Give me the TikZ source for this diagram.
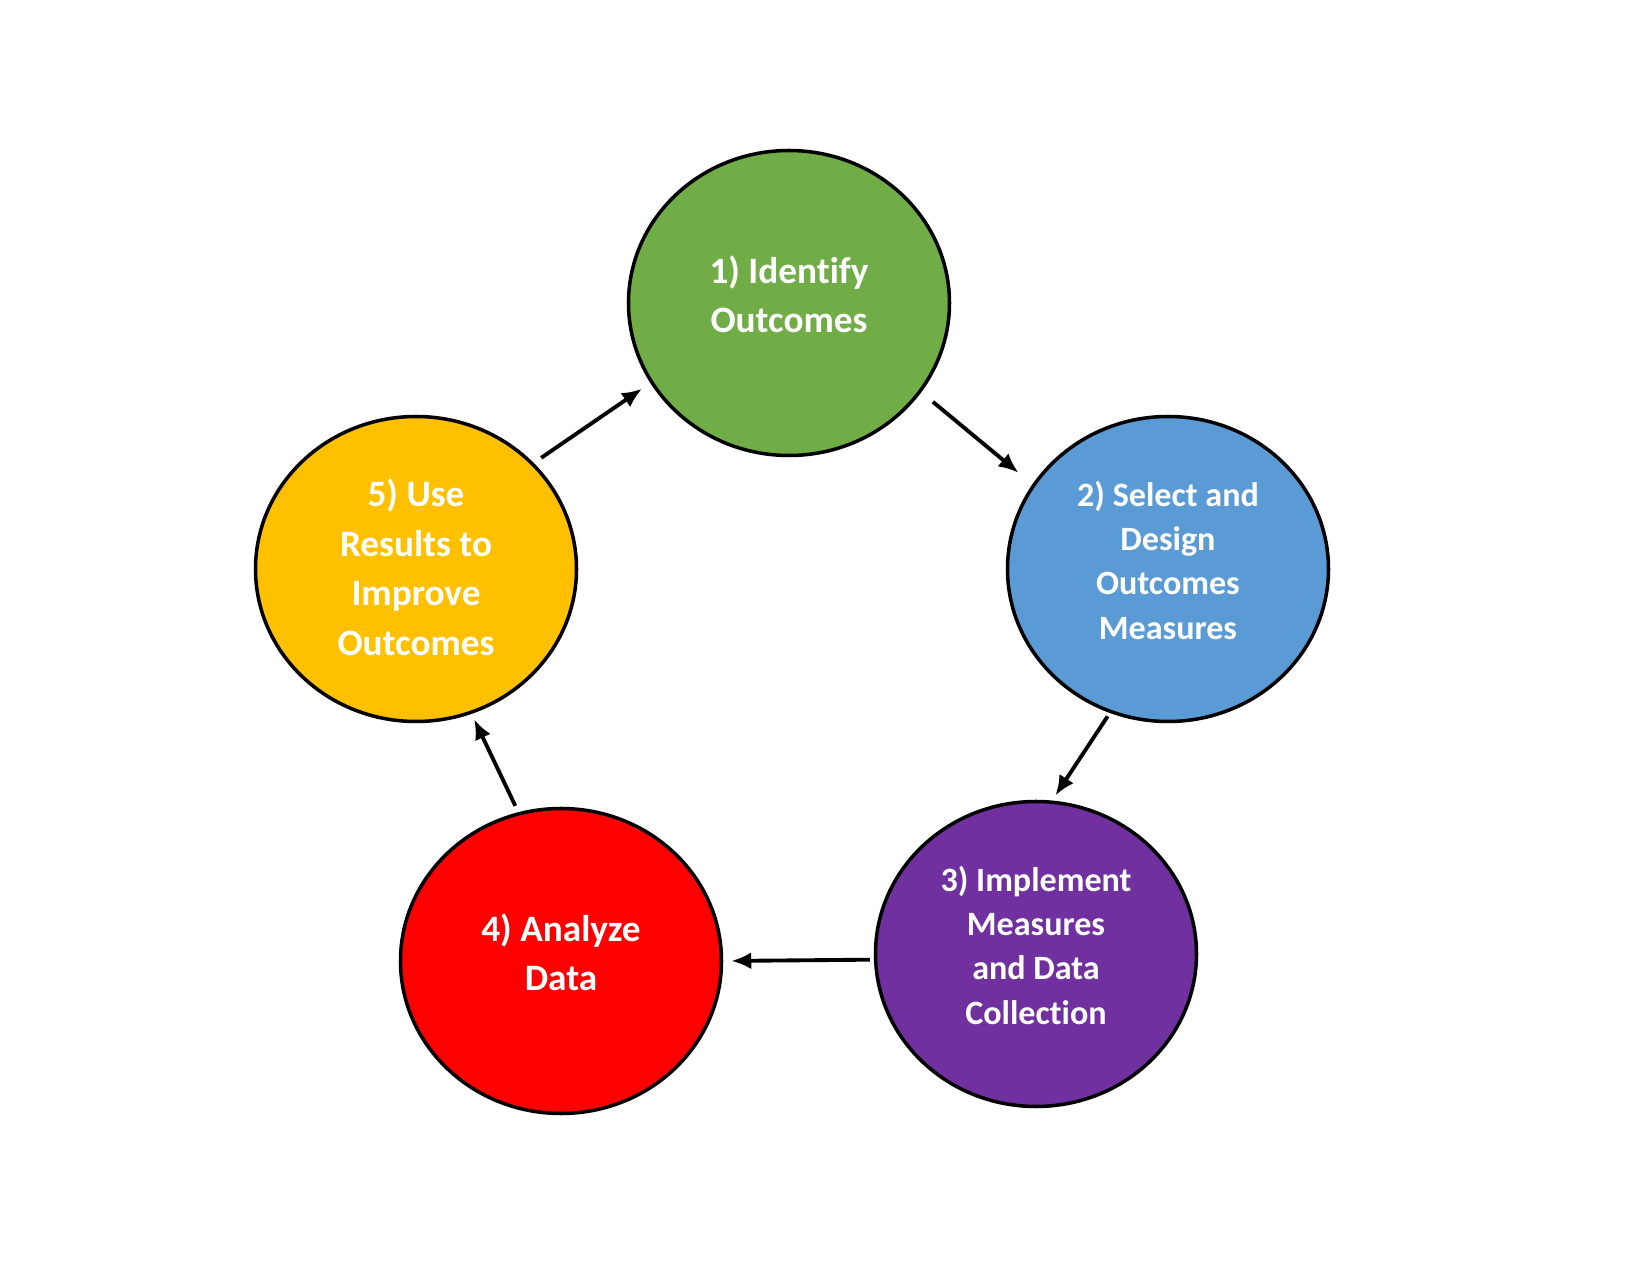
\documentclass[tikz,border=0pt]{standalone}
\usepackage{fontspec}
\setmainfont{Carlito}[Ligatures=NoCommon]
\usepackage{tikz}
\usetikzlibrary{arrows.meta,shapes.geometric}
\definecolor{stepgreen}{HTML}{70AD47}
\definecolor{stepblue}{HTML}{5B9BD5}
\definecolor{steppurple}{HTML}{7030A0}
\definecolor{stepred}{HTML}{FF0000}
\definecolor{stepgold}{HTML}{FFC000}
\newcommand{\stagetext}[2][0.1cm]{\begin{tabular}{@{}c@{}}#2\\[#1]\end{tabular}}
\begin{document}
\begin{tikzpicture}[
  stage/.style={ellipse, draw=black, line width=1pt, minimum width=3.21cm,
    minimum height=3.05cm, inner sep=0pt, text=white,
    font=\fontsize{10.6pt}{14.1pt}\selectfont\bfseries},
  small/.style={font=\fontsize{9.7pt}{12.6pt}\selectfont\bfseries},
  flow/.style={line width=1.1pt, -{Latex[length=2mm,width=1.7mm]}}
]
\useasboundingbox (0,0) rectangle (16.5,12.75);
\node[stage, fill=stepgreen] (identify) at (7.89,9.72) {\stagetext{1) Identify\\Outcomes}};
\node[stage, small, fill=stepblue] (select) at (11.68,7.06) {\stagetext{2) Select and\\Design\\Outcomes\\Measures}};
\node[stage, small, fill=steppurple] (implement) at (10.36,3.21) {\stagetext{3) Implement\\Measures\\and Data\\Collection}};
\node[stage, fill=stepred] (analyze) at (5.61,3.14) {\stagetext{4) Analyze\\Data}};
\node[stage, fill=stepgold] (improve) at (4.16,7.06) {\stagetext[-0.04cm]{5) Use\\Results to\\Improve\\Outcomes}};
% arrows round the cycle
\draw[flow, shorten <=0.15cm, shorten >=0.18cm] (identify.-34) -- (select.148.5);
\draw[flow, shorten <=0.04cm, shorten >=0.06cm] (select.-112) -- (implement.84);
\draw[flow, shorten <=0.04cm, shorten >=0.08cm] (implement.182) -- (analyze.0);
\draw[flow, shorten <=0.07cm, shorten >=0.06cm] (analyze.106) -- (improve.-69);
\draw[flow, shorten <=0.09cm, shorten >=0.10cm] (improve.42) -- (identify.210);
\end{tikzpicture}
\end{document}
